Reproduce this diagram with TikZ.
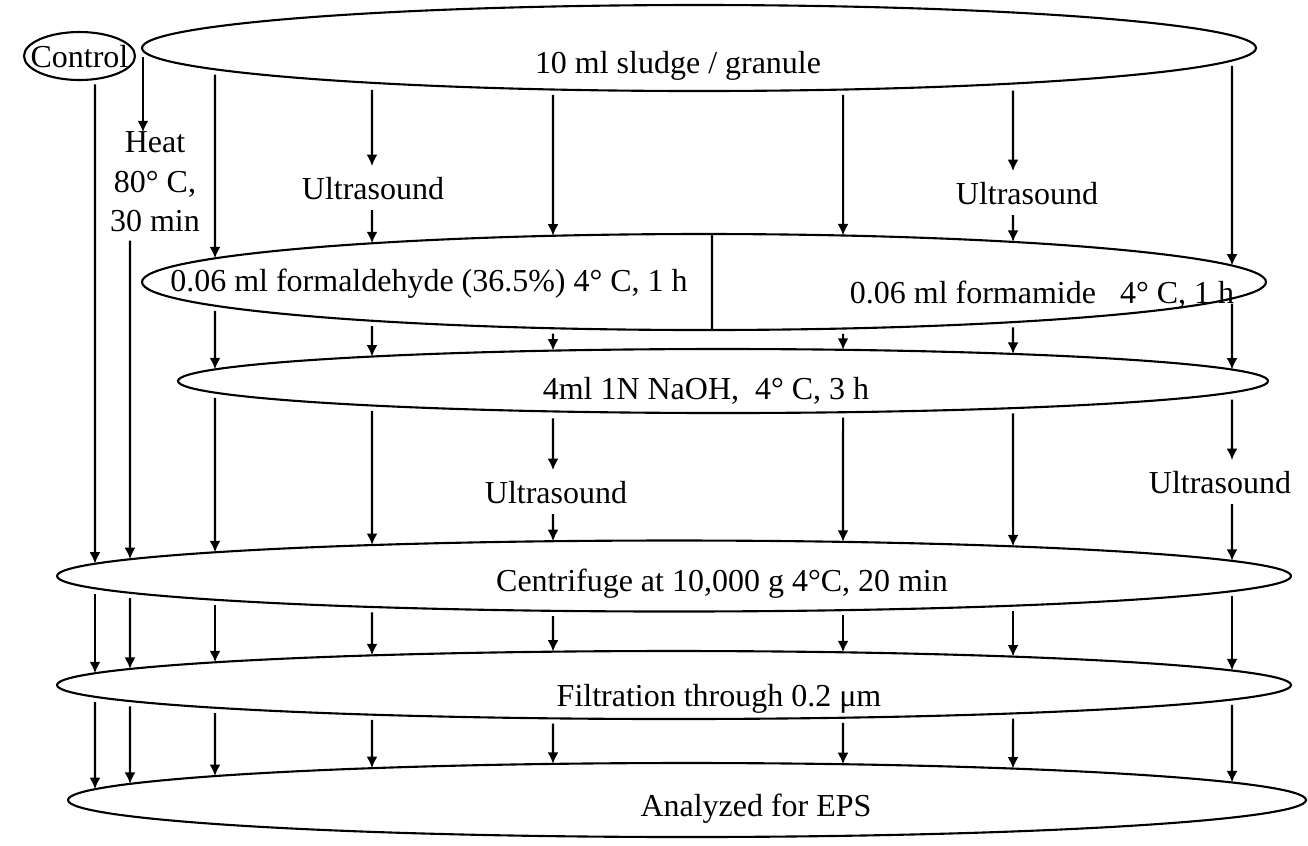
\documentclass[tikz,border=0pt]{standalone}
\usepackage{fontspec}
\setmainfont{Liberation Serif}
\usetikzlibrary{arrows.meta,intersections,shapes.geometric}

\tikzset{
  stage/.style={draw, ellipse, inner sep=0pt, line width=0.6pt},
  arr/.style={-{Latex[length=0.115cm,width=0.11cm]}, line width=0.6pt},
  lab/.style={anchor=base, inner sep=0.1cm}
}

% arrow from one ellipse to the next, down a column
\newcommand\flow[3]{%
  \path[name path=vline] (#1) -- ++(0,-8.45);
  \path[name intersections={of=vline and #2, name=up, sort by=vline}];
  \path[name intersections={of=vline and #3, name=dn, sort by=vline}];
  \draw[arr, shorten <=1.5pt] (up-2) to (dn-1);
}
% ellipse to a label
\newcommand\flowin[3]{%
  \path[name path=vline] (#1) -- ++(0,-8.45);
  \path[name intersections={of=vline and #2, name=up, sort by=vline}];
  \draw[arr, shorten <=2pt] (up-2) to (#1 |- #3.north);
}
% label to an ellipse
\newcommand\flowout[3]{%
  \path[name path=vline] (#1) -- ++(0,-8.45);
  \path[name intersections={of=vline and #3, name=dn, sort by=vline}];
  \draw[arr] (#1 |- #2.south) to (dn-1);
}

\begin{document}
\begin{tikzpicture}[font=\fontsize{9.1}{11.2}\selectfont]
  \useasboundingbox (0,0) rectangle (13.08,-8.45);

  % stages
  \node[stage, minimum width=1.11cm, minimum height=0.48cm, name path=ctl] (ctl) at (0.795,-0.56) {};
  \node[stage, minimum width=11.14cm, minimum height=0.86cm, name path=src] (src) at (6.99,-0.48) {};
  \node[stage, minimum width=11.24cm, minimum height=0.96cm, name path=form] (form) at (7.04,-2.82) {};
  \node[stage, minimum width=10.90cm, minimum height=0.64cm, name path=naoh] (naoh) at (7.23,-3.81) {};
  \node[stage, minimum width=12.34cm, minimum height=0.71cm, name path=cen] (cen) at (6.74,-5.76) {};
  \node[stage, minimum width=12.34cm, minimum height=0.68cm, name path=fil] (fil) at (6.74,-6.85) {};
  \node[stage, minimum width=12.38cm, minimum height=0.74cm, name path=eps] (eps) at (6.87,-8.00) {};

  % texts
  \node[anchor=base] (ctlT) at (0.795,-0.67) {Control};
  \node[anchor=base] (srcT) at (6.78,-0.73) {10 ml sludge / granule};
  \node[anchor=base] (formL) at (4.29,-2.91) {0.06 ml formaldehyde (36.5\%) 4° C, 1 h};
  \node[anchor=base] (formR) at (10.42,-3.03) {0.06 ml formamide\ \ \ 4° C, 1 h};
  \node[anchor=base] (naohT) at (7.06,-3.99) {4ml 1N NaOH,\ \ 4° C, 3 h};
  \node[anchor=base] (cenT) at (7.22,-5.91) {Centrifuge at 10,000 g 4°C, 20 min};
  \node[anchor=base] (filT) at (7.19,-7.06) {Filtration through 0.2 μm};
  \node[anchor=base] (epsT) at (7.56,-8.16) {Analyzed for EPS};

  \node[align=center, inner sep=0.08cm] (heat) at (1.55,-1.82) {Heat\\80° C,\\30 min};
  \node[lab] (usD) at (3.73,-1.99) {Ultrasound};
  \node[lab] (usG) at (10.27,-2.04) {Ultrasound};
  \node[lab] (usE) at (5.56,-5.03) {Ultrasound};
  \node[lab] (usH) at (12.20,-4.93) {Ultrasound};

  % columns
  \coordinate (cA) at (0.95,0);
  \coordinate (cB) at (1.30,0);
  \coordinate (cC) at (2.15,0);
  \coordinate (cD) at (3.72,0);
  \coordinate (cE) at (5.53,0);
  \coordinate (cF) at (8.43,0);
  \coordinate (cG) at (10.13,0);
  \coordinate (cH) at (12.32,0);

  % divider in the second stage
  \path[name path=vmid] (7.12,0) -- ++(0,-8.45);
  \draw[line width=0.6pt, name intersections={of=vmid and form, name=d, sort by=vmid}] (d-1) to (d-2);

  % arrows
  \draw[arr] ([xshift=0.02cm,yshift=-0.09cm]src.west) to ([xshift=0.02cm,yshift=-0.09cm]src.west |- heat.north);
  \flow{cA}{ctl}{cen}
  \flowout{cB}{heat}{cen}
  \foreach \c in {cC,cE,cF,cH} {\flow{\c}{src}{form}}
  \flowin{cD}{src}{usD}
  \flowout{cD}{usD}{form}
  \flowin{cG}{src}{usG}
  \flowout{cG}{usG}{form}
  \foreach \c in {cC,cD,cE,cF,cG,cH} {\flow{\c}{form}{naoh}}
  \foreach \c in {cC,cD,cF,cG} {\flow{\c}{naoh}{cen}}
  \flowin{cE}{naoh}{usE}
  \flowout{cE}{usE}{cen}
  \flowin{cH}{naoh}{usH}
  \flowout{cH}{usH}{cen}
  \foreach \c in {cA,cB,cC,cD,cE,cF,cG,cH} {\flow{\c}{cen}{fil} \flow{\c}{fil}{eps}}
\end{tikzpicture}
\end{document}
